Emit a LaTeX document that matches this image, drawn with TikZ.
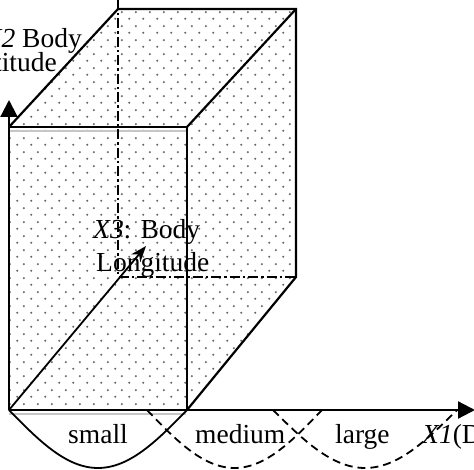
\documentclass[tikz,border=0pt]{standalone}
\usepackage{fontspec}
\setmainfont{Liberation Serif}
\usetikzlibrary{arrows.meta,patterns}
\pgfdeclarepatternformonly{stipple}{\pgfqpoint{0pt}{0pt}}{\pgfqpoint{14pt}{14pt}}{\pgfqpoint{14pt}{14pt}}{%
  \pgfpathcircle{\pgfqpoint{3.5pt}{3.5pt}}{1.2pt}%
  \pgfpathcircle{\pgfqpoint{10.5pt}{10.5pt}}{1.2pt}%
  \pgfusepath{fill}}
\begin{document}
\begin{tikzpicture}[x=1pt,y=-1pt,
  edge/.style={line width=2.2pt},
  hidden/.style={line width=1.8pt,dash pattern=on 10pt off 3pt on 2.5pt off 3pt},
  faint/.style={line width=1.2pt,gray!45},
  mf/.style={line width=1.8pt},
  mfdash/.style={line width=1.8pt,dash pattern=on 8pt off 5pt},
  lbl/.style={font=\fontsize{27.5}{30}\selectfont,inner sep=0pt}]
\useasboundingbox (0,0) rectangle (474,470);
\coordinate (O) at (9,410);
\coordinate (FTL) at (9,127);
\coordinate (FTR) at (187,127);
\coordinate (FBR) at (187,410);
\coordinate (BTL) at (118,9);
\coordinate (BTR) at (296,9);
\coordinate (BBR) at (296,277);
\coordinate (BBL) at (118,277);
\coordinate (BTop) at (118,0);
\coordinate (X2tip) at (9,100);
\coordinate (X1tip) at (475,410);
\coordinate (X3tip) at (146,246);
% stipple fill
\fill[pattern=stipple,pattern color=black!60] (O) -- (FTL) -- (BTL) -- (BTR) -- (BBR) -- (FBR) -- cycle;
% faint lines
\draw[faint] (9,131) -- (186,131);
\draw[faint] (9,414) -- (186,414);
% hidden edges
\draw[hidden] (BTop) -- (BBL) -- (BBR);
% membership functions
\draw[mf] plot[domain=0:1,samples=60,smooth] ({9+178*\x},{410+58*sin(180*\x)});
\draw[mfdash] plot[domain=0:1,samples=60,smooth] ({147+175*\x},{410+58*sin(180*\x)});
\draw[mfdash] plot[domain=0:1,samples=60,smooth] ({273+184*\x},{410+58*sin(180*\x)});
% box edges
\draw[edge] (FTL) -- (FTR) -- (FBR);
\draw[edge] (FTL) -- (BTL) -- (BTR) -- (BBR) -- (FBR);
\draw[edge] (FTR) -- (BTR);
% axes
\draw[edge,-{Triangle[length=17pt,width=17pt]}] (O) -- (X2tip);
\draw[edge,-{Triangle[length=17pt,width=17pt]}] (O) -- (X1tip);
\draw[line width=1.8pt,-{Stealth[length=16pt,width=12pt]}] (O) -- (X3tip);
% labels
\node[lbl,anchor=base east] (x2a) at (82,48) {\textit{X2} Body};
\node[lbl,anchor=base east] (x2b) at (57,72) {Latitude};
\node[lbl,anchor=base west] (x3a) at (93,239) {\textit{X3}: Body};
\node[lbl,anchor=base west] (x3b) at (96,272) {Longitude};
\node[lbl,anchor=base west] (small) at (68,443) {small};
\node[lbl,anchor=base west] (medium) at (195,443) {medium};
\node[lbl,anchor=base west] (large) at (335,443) {large};
\node[lbl,anchor=base west] (x1) at (422,443) {\textit{X1}(D};
\end{tikzpicture}
\end{document}
